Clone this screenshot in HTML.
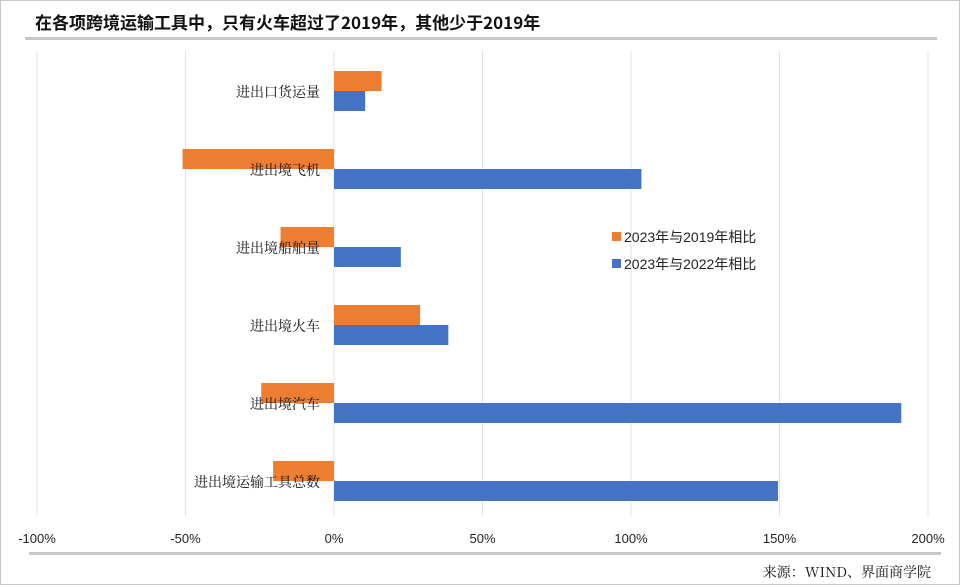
<!DOCTYPE html>
<html><head><meta charset="utf-8"><style>
body{margin:0;background:#fff}
#wrap{position:relative;width:958px;height:583px;border:1px solid #c8c8c8;overflow:hidden;font-family:"Liberation Sans","Noto Sans CJK SC",sans-serif}
#title{position:absolute;left:34px;top:8px;font-size:17px;font-weight:bold;color:#111;font-family:"Noto Sans CJK SC",sans-serif}
#tline{position:absolute;left:24px;top:36px;width:912px;height:3px;background:#c8c8c8}
#bline{position:absolute;left:28px;top:551px;width:912px;height:3px;background:#c8c8c8}
#src{position:absolute;right:28px;top:561px;font-size:14px;color:#111;font-family:"Noto Serif CJK SC",serif}
svg{position:absolute;left:0;top:0}
</style></head><body>
<div id="wrap">
<div id="title">在各项跨境运输工具中，只有火车超过了2019年，其他少于2019年</div>
<div id="tline"></div>
<svg id="chart" width="960" height="585"></svg>
<div id="bline"></div>
<div id="src">来源：WIND、界面商学院</div>
</div>
<script>
const categories=["进出口货运量","进出境飞机","进出境船舶量","进出境火车","进出境汽车","进出境运输工具总数"];
const vs2019=[16,-51,-18,29,-24.5,-20.5];
const vs2022=[10.5,103.5,22.5,38.5,191,149.5];
const ticks=[-100,-50,0,50,100,150,200];
const tickLabels=["-100%","-50%","0%","50%","100%","150%","200%"];
const seriesNames=["2023年与2019年相比","2023年与2022年相比"];
const NS="http://www.w3.org/2000/svg";
const svg=document.getElementById('chart');
const x=v=>333+v*2.97;
const rowY=i=>90+i*78;
function mk(t,a){const e=document.createElementNS(NS,t);for(const k in a)e.setAttribute(k,a[k]);svg.appendChild(e);return e;}
ticks.forEach((t,i)=>{
 const g=mk('line',{x1:x(t),x2:x(t),y1:50,y2:515,stroke:'#e0e0e0','stroke-width':1});
 
 
 const l=mk('text',{x:x(t),y:542,'text-anchor':'middle','font-size':13,fill:'#222','font-family':'Liberation Sans Narrow, Liberation Sans, sans-serif'});
 l.textContent=tickLabels[i];
 
 
});
categories.forEach((c,i)=>{
 const y=rowY(i);
 const a=vs2019[i],b=vs2022[i];
 const r1=mk('rect',{x:Math.min(x(0),x(a)),y:y-20,width:Math.abs(x(a)-x(0)),height:20,fill:'#ed7d31'});
 
 
 const r2=mk('rect',{x:Math.min(x(0),x(b)),y:y,width:Math.abs(x(b)-x(0)),height:20,fill:'#4472c4'});
 
 
 const t=mk('text',{x:319,y:y+6,'text-anchor':'end','font-size':14,fill:'#111','font-family':'Noto Serif CJK SC, serif'});
 t.textContent=c;
 
 
});
const colors=['#ed7d31','#4472c4'];
seriesNames.forEach((s,i)=>{
 const y=236+i*27;
 const r=mk('rect',{x:611,y:y-5,width:9,height:9,fill:colors[i]});
 
 
 const t=mk('text',{x:623,y:y+5,'font-size':14,fill:'#222','font-family':'Liberation Sans, Noto Sans CJK SC, sans-serif'});
 t.textContent=s;
 
 
});
</script>
</body></html>
